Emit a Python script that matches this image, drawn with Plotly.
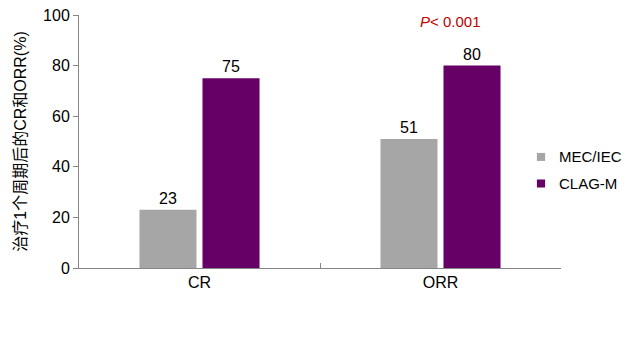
import plotly.graph_objects as go

categories = ["CR", "ORR"]
mec_iec = [23, 51]
clag_m = [75, 80]
y_ticks = [0, 20, 40, 60, 80, 100]
series_names = ["MEC/IEC", "CLAG-M"]
series_colors = ["#A6A6A6", "#660066"]

FONT = "Liberation Sans, Arial, Noto Sans CJK SC, sans-serif"

fig = go.Figure()
for name, vals, col in zip(series_names, [mec_iec, clag_m], series_colors):
    fig.add_trace(go.Bar(x=categories, y=vals, name=name, marker_color=col,
                         marker_line_width=0,
                         text=[str(v) for v in vals], textposition="outside",
                         textfont=dict(size=16, color="#000000"), cliponaxis=False))

# manual legend (squares + labels)
legend_y = [0.439, 0.334]
shapes = []
annotations = []
for name, col, ly in zip(series_names, series_colors, legend_y):
    shapes.append(dict(type="rect", xref="paper", yref="paper",
                       x0=0.950, x1=0.967, y0=ly - 0.0158, y1=ly + 0.0158,
                       fillcolor=col, line=dict(width=0)))
    annotations.append(dict(x=0.992, xref="paper", y=ly, yref="paper", text=name,
                            showarrow=False, xanchor="left", yanchor="middle",
                            font=dict(size=15, color="#000000")))

annotations.append(dict(x=1, xref="x", y=97.6, yref="y", text="<i>P</i>< 0.001",
                        showarrow=False, xshift=9, font=dict(size=15, color="#C00000"),
                        yanchor="middle"))

fig.update_layout(
    width=629, height=342,
    margin=dict(l=79, r=68, t=15, b=74, autoexpand=False),
    paper_bgcolor="white", plot_bgcolor="white",
    font=dict(family=FONT, size=14, color="#000000"),
    barmode="group", bargap=0.477, bargroupgap=0.095,
    showlegend=False,
    shapes=shapes,
    annotations=annotations,
)
fig.update_yaxes(range=[0, 100], tickvals=y_ticks, ticks="outside", ticklen=5,
                 tickcolor="#868686", showline=True, linecolor="#868686", linewidth=1,
                 showgrid=False, zeroline=False, tickfont=dict(size=16),
                 title=dict(text="治疗1个周期后的CR和ORR(%)", font=dict(size=16), standoff=12))
fig.update_xaxes(showline=True, linecolor="#868686", linewidth=1, showgrid=False,
                 ticks="inside", ticklen=5, tickcolor="#868686", tickson="boundaries",
                 tickfont=dict(size=16))

fig.write_html("out.html")
